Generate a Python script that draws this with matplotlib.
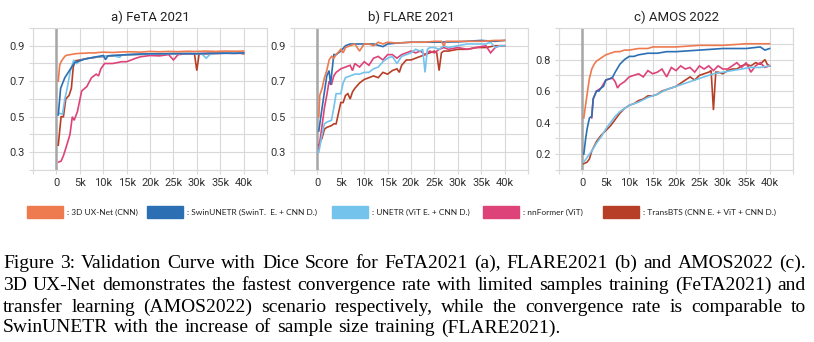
import numpy as np
import matplotlib.pyplot as plt
from matplotlib.patches import Rectangle

W, H = 814, 342

# ---- FeTA 2021 ----
feta_uxnet_x = [400, 700, 1000, 1500, 2000, 2500, 3000, 4000, 5000, 6000, 7000, 8000, 9000, 10000, 12000,
                14000, 16000, 18000, 20000, 22000, 24000, 26000, 28000, 30000, 32000, 34000, 36000, 38000, 40000]
feta_uxnet_y = [0.70, 0.79, 0.81, 0.83, 0.845, 0.848, 0.85, 0.855, 0.857, 0.858, 0.86, 0.859, 0.862, 0.864, 0.862,
                0.865, 0.866, 0.864, 0.868, 0.866, 0.868, 0.867, 0.869, 0.868, 0.87, 0.868, 0.87, 0.869, 0.87]

feta_swin_x = [400, 900, 1800, 2900, 3900, 5000, 6000, 7000, 8000, 9000, 10000, 10500, 11000, 12000, 14000,
               15000, 17000, 20000, 23000, 26000, 30000, 33000, 36000, 38000, 40000]
feta_swin_y = [0.51, 0.66, 0.72, 0.765, 0.805, 0.815, 0.825, 0.83, 0.835, 0.84, 0.845, 0.822, 0.843, 0.845, 0.848,
               0.85, 0.852, 0.855, 0.855, 0.856, 0.855, 0.857, 0.858, 0.857, 0.86]

feta_unetr_x = [500, 1300, 1800, 2300, 3000, 3700, 4300, 5000, 6000, 8000, 10000, 12000, 13500, 14000, 16000,
                20000, 24000, 28000, 31000, 32000, 33000, 36000, 40000]
feta_unetr_y = [0.52, 0.515, 0.60, 0.66, 0.76, 0.82, 0.80, 0.815, 0.825, 0.835, 0.84, 0.845, 0.835, 0.848, 0.85,
                0.853, 0.855, 0.856, 0.856, 0.83, 0.856, 0.858, 0.86]

feta_nnformer_x = [500, 1000, 1500, 2100, 2900, 3400, 3800, 4500, 5400, 6500, 7500, 8500, 9000, 9500, 10300,
                   12000, 13000, 13900, 15000, 16000, 17000, 18000, 20000, 22000, 24000, 25000, 26000, 28000,
                   32000, 36000, 40000]
feta_nnformer_y = [0.245, 0.25, 0.28, 0.33, 0.40, 0.50, 0.48, 0.53, 0.645, 0.67, 0.72, 0.74, 0.73, 0.77, 0.80,
                   0.80, 0.805, 0.81, 0.81, 0.82, 0.83, 0.838, 0.845, 0.843, 0.85, 0.82, 0.85, 0.855,
                   0.856, 0.858, 0.857]

feta_transbts_x = [400, 1000, 1500, 2000, 2700, 3200, 3600, 4000, 5000, 7000, 10000, 13000, 16000, 20000,
                   24000, 28000, 29500, 30000, 30500, 33000, 36000, 39000, 40000]
feta_transbts_y = [0.34, 0.50, 0.50, 0.60, 0.62, 0.66, 0.78, 0.815, 0.82, 0.83, 0.84, 0.845, 0.85, 0.853,
                   0.855, 0.856, 0.855, 0.76, 0.855, 0.857, 0.858, 0.86, 0.855]

# ---- FLARE 2021 ----
flare_uxnet_x = [300, 500, 1000, 1500, 2000, 2500, 3000, 3500, 4000, 5000, 5500, 6000, 7000, 8000, 9000, 10000,
                 11000, 12000, 13000, 14000, 15000, 17000, 20000, 23000, 25000, 26500, 27000, 27500, 30000,
                 33000, 35000, 38000, 40000]
flare_uxnet_y = [0.50, 0.62, 0.66, 0.72, 0.76, 0.82, 0.84, 0.83, 0.85, 0.88, 0.86, 0.89, 0.90, 0.91, 0.87, 0.91,
                 0.91, 0.90, 0.92, 0.91, 0.92, 0.915, 0.92, 0.92, 0.925, 0.925, 0.90, 0.925, 0.925,
                 0.925, 0.925, 0.93, 0.93]

flare_swin_x = [300, 1000, 1500, 2000, 2500, 2800, 3500, 4000, 5000, 6000, 7000, 10000, 12000, 14000, 15000,
                17000, 20000, 25000, 30000, 35000, 38000, 40000]
flare_swin_y = [0.42, 0.55, 0.64, 0.73, 0.76, 0.68, 0.85, 0.85, 0.87, 0.90, 0.91, 0.91, 0.91, 0.895, 0.91,
                0.915, 0.92, 0.92, 0.922, 0.93, 0.925, 0.93]

flare_unetr_x = [300, 1000, 1500, 2000, 3000, 3500, 4000, 5000, 5500, 6000, 7000, 8000, 9000, 10000, 11000,
                 12000, 13000, 14000, 15000, 16000, 17000, 18000, 19000, 20000, 21000, 22000, 22500, 23000,
                 23500, 24000, 25000, 26000, 27000, 28000, 30000, 32000, 34000, 36000, 37000, 38000, 39000, 40000]
flare_unetr_y = [0.30, 0.40, 0.46, 0.47, 0.48, 0.55, 0.63, 0.63, 0.69, 0.72, 0.73, 0.74, 0.74, 0.75, 0.75,
                 0.77, 0.78, 0.81, 0.83, 0.84, 0.80, 0.84, 0.85, 0.86, 0.88, 0.87, 0.88, 0.75,
                 0.88, 0.89, 0.89, 0.88, 0.90, 0.89, 0.90, 0.91, 0.91, 0.91, 0.92, 0.89, 0.90, 0.90]

flare_nnformer_x = [300, 1000, 1500, 2000, 2500, 3000, 3500, 4000, 5000, 6000, 7000, 7500, 8000, 9000, 10000,
                    11000, 12000, 13000, 14000, 15000, 16000, 17000, 18000, 19000, 20000, 21000, 22000, 23000,
                    24000, 25000, 26000, 27000, 28000, 30000, 32000, 34000, 36000, 37000, 38000, 39000, 40000]
flare_nnformer_y = [0.32, 0.45, 0.55, 0.62, 0.70, 0.68, 0.73, 0.75, 0.77, 0.78, 0.79, 0.76, 0.80, 0.78, 0.81,
                    0.79, 0.83, 0.84, 0.82, 0.85, 0.85, 0.83, 0.85, 0.86, 0.87, 0.86, 0.87, 0.85,
                    0.87, 0.86, 0.88, 0.89, 0.88, 0.89, 0.88, 0.89, 0.90, 0.86, 0.89, 0.90, 0.90]

flare_transbts_x = [300, 1000, 1500, 2000, 3000, 3500, 4000, 4500, 5000, 5500, 6000, 6500, 7000, 7500, 8000,
                    9000, 10000, 11000, 12000, 13000, 14000, 15000, 16000, 17000, 17500, 18000, 19000, 20000,
                    21000, 22000, 23000, 24000, 25000, 25500, 26000, 26500, 27000, 28000, 30000, 32000, 34000,
                    36000, 38000, 40000]
flare_transbts_y = [0.34, 0.38, 0.43, 0.44, 0.45, 0.46, 0.46, 0.52, 0.58, 0.58, 0.62, 0.63, 0.60, 0.64, 0.66,
                    0.69, 0.71, 0.72, 0.73, 0.72, 0.75, 0.74, 0.76, 0.77, 0.75, 0.79, 0.82, 0.82,
                    0.83, 0.84, 0.85, 0.86, 0.87, 0.86, 0.76, 0.86, 0.87, 0.87, 0.88, 0.88, 0.89,
                    0.89, 0.90, 0.90]

# ---- AMOS 2022 ----
amos_uxnet_x = [300, 1000, 1500, 2000, 2500, 3000, 4000, 5000, 6000, 7000, 8000, 9000, 10000, 12000, 14000,
                15000, 20000, 25000, 30000, 35000, 40000]
amos_uxnet_y = [0.43, 0.58, 0.68, 0.74, 0.77, 0.79, 0.81, 0.83, 0.84, 0.85, 0.85, 0.86, 0.86, 0.87, 0.87,
                0.88, 0.88, 0.89, 0.89, 0.90, 0.90]

amos_swin_x = [300, 700, 1000, 1500, 2000, 2300, 3000, 3500, 4000, 4500, 5000, 6000, 6500, 7000, 8000, 9000,
               10000, 11000, 12000, 14000, 16000, 18000, 20000, 25000, 30000, 35000, 38000, 39000, 40000]
amos_swin_y = [0.20, 0.30, 0.36, 0.43, 0.44, 0.55, 0.60, 0.60, 0.62, 0.63, 0.67, 0.68, 0.69, 0.72, 0.77, 0.80,
               0.82, 0.82, 0.83, 0.84, 0.84, 0.85, 0.85, 0.86, 0.87, 0.87, 0.88, 0.86, 0.87]

amos_unetr_x = [300, 1000, 2000, 3000, 4000, 5000, 6000, 7000, 8000, 9000, 10000, 12000, 14000, 16000, 18000,
                20000, 22000, 24000, 26000, 28000, 30000, 32000, 34000, 36000, 38000, 40000]
amos_unetr_y = [0.15, 0.18, 0.22, 0.27, 0.31, 0.36, 0.40, 0.44, 0.47, 0.49, 0.51, 0.53, 0.56, 0.58, 0.61,
                0.63, 0.65, 0.67, 0.69, 0.71, 0.72, 0.73, 0.74, 0.75, 0.75, 0.76]

amos_nnformer_x = [2000, 2300, 3000, 4000, 5000, 6000, 6500, 7000, 7500, 8000, 9000, 10000, 11000, 12000,
                   13000, 14000, 15000, 16000, 17000, 18000, 19000, 20000, 21000, 22000, 23000, 24000, 25000,
                   26000, 27000, 28000, 29000, 30000, 31000, 32000, 33000, 34000, 35000, 36000, 37000, 38000,
                   39000, 40000]
amos_nnformer_y = [0.43, 0.55, 0.60, 0.62, 0.67, 0.68, 0.68, 0.66, 0.62, 0.64, 0.66, 0.69, 0.70, 0.71,
                   0.69, 0.73, 0.71, 0.72, 0.74, 0.69, 0.75, 0.73, 0.76, 0.74, 0.75, 0.72, 0.76,
                   0.74, 0.76, 0.73, 0.76, 0.74, 0.74, 0.76, 0.78, 0.75, 0.78, 0.72, 0.76, 0.78,
                   0.75, 0.76]

amos_transbts_x = [300, 1000, 1500, 2000, 3000, 4000, 5000, 6000, 6500, 7000, 8000, 9000, 10000, 11000, 12000,
                   13000, 14000, 15000, 16000, 17000, 18000, 19000, 20000, 21000, 22000, 23000, 24000, 25000,
                   26000, 27000, 27500, 28000, 28500, 29000, 30000, 31000, 32000, 33000, 34000, 35000, 36000,
                   37000, 38000, 39000, 39500, 40000]
amos_transbts_y = [0.14, 0.15, 0.17, 0.22, 0.28, 0.32, 0.35, 0.38, 0.40, 0.42, 0.46, 0.49, 0.51, 0.52, 0.54,
                   0.55, 0.57, 0.57, 0.58, 0.60, 0.61, 0.62, 0.63, 0.65, 0.67, 0.69, 0.67, 0.70,
                   0.71, 0.72, 0.73, 0.48, 0.72, 0.72, 0.71, 0.73, 0.74, 0.74, 0.76, 0.77, 0.76,
                   0.78, 0.77, 0.80, 0.77, 0.76]

model_names = [": 3D UX-Net (CNN)", ": SwinUNETR (SwinT.  E. + CNN D.)", ": UNETR (ViT E. + CNN D.)",
               ": nnFormer (ViT)", ": TransBTS (CNN E. + ViT + CNN D.)"]
colors = ["#ee7a4f", "#2c6fb3", "#74c3ec", "#dd4379", "#b83f27"]

panels = [
    ("a) FeTA 2021", (0.2, 1.0), [0.3, 0.5, 0.7, 0.9], 33,
     [(feta_uxnet_x, feta_uxnet_y), (feta_swin_x, feta_swin_y), (feta_unetr_x, feta_unetr_y),
      (feta_nnformer_x, feta_nnformer_y), (feta_transbts_x, feta_transbts_y)]),
    ("b) FLARE 2021", (0.2, 1.0), [0.3, 0.5, 0.7, 0.9], 294,
     [(flare_uxnet_x, flare_uxnet_y), (flare_swin_x, flare_swin_y), (flare_unetr_x, flare_unetr_y),
      (flare_nnformer_x, flare_nnformer_y), (flare_transbts_x, flare_transbts_y)]),
    ("c) AMOS 2022", (0.1, 1.0), [0.2, 0.4, 0.6, 0.8], 559,
     [(amos_uxnet_x, amos_uxnet_y), (amos_swin_x, amos_swin_y), (amos_unetr_x, amos_unetr_y),
      (amos_nnformer_x, amos_nnformer_y), (amos_transbts_x, amos_transbts_y)]),
]

fig = plt.figure(figsize=(W / 100, H / 100), dpi=100)
fig.patch.set_facecolor("white")

grid_c = "#d9d9d9"
xt = np.arange(-5000, 45001, 5000)
xlabels = ["" if (t < 0 or t > 40000) else ("0" if t == 0 else f"{t // 1000}k") for t in xt]

# draw order: bottom to top
order = [4, 3, 2, 1, 0]

for title, ylim, ylab, left_px, series in panels:
    ax = fig.add_axes([left_px / W, 1 - 170 / H, 234 / W, 142 / H])
    ax.set_xlim(-5000, 45000)
    ax.set_ylim(*ylim)
    yt = np.round(np.arange(ylim[0], ylim[1] + 0.001, 0.1), 2)
    ax.set_yticks(yt)
    ax.set_yticklabels([f"{v:.1f}" if any(abs(v - l) < 1e-6 for l in ylab) else "" for v in yt])
    ax.set_xticks(xt)
    ax.set_xticklabels(xlabels)
    ax.grid(True, color=grid_c, lw=0.8)
    ax.set_axisbelow(True)
    for s in ax.spines.values():
        s.set_color(grid_c)
        s.set_linewidth(0.8)
    ax.tick_params(length=3, width=0.8, color=grid_c, labelsize=8, labelcolor="#333333", pad=3,
                   labelfontfamily="Roboto")
    ax.axvline(0, color="#a6a6a6", lw=1.8, zorder=1.5)
    for i in order:
        x, y = series[i]
        ax.plot(x, y, color=colors[i], lw=1.2, zorder=3, solid_joinstyle="miter")
    ax.set_title(title, fontsize=9.5, family="Roboto", color="#222222", pad=5)

# legend strip
leg_patch_x = [27, 147, 332, 483, 603]
for i, name in enumerate(model_names):
    fig.patches.append(Rectangle((leg_patch_x[i] / W, 1 - 218 / H), 36 / W, 12 / H,
                                 transform=fig.transFigure, color=colors[i]))
    fig.text((leg_patch_x[i] + 40) / W, 1 - 212 / H, name, fontsize=6, family="Lato",
             va="center", ha="left", color="#222222")

# caption, justified across the page width
caption = [
    "Figure 3: Validation Curve with Dice Score for FeTA2021 (a), FLARE2021 (b) and AMOS2022 (c).",
    "3D UX-Net demonstrates the fastest convergence rate with limited samples training (FeTA2021) and",
    "transfer learning (AMOS2022) scenario respectively, while the convergence rate is comparable to",
    "SwinUNETR with the increase of sample size training (FLARE2021).",
]
cap_y = [263, 285, 307, 328]
x0, x1 = 3, 806
renderer = fig.canvas.get_renderer()

def word_widths(words, size):
    out = []
    for w in words:
        t = fig.text(0, 0, w, fontsize=size, family="Liberation Serif")
        out.append(t.get_window_extent(renderer).width)
        t.remove()
    return out

size = 14
space = word_widths(["a b"], size)[0] - 2 * word_widths(["a"], size)[0]
widest = max(sum(word_widths(l.split(), size)) + space * (len(l.split()) - 1) for l in caption)
size = size * min(1.0, (x1 - x0) / widest)

for k, line in enumerate(caption):
    words = line.split()
    ww = word_widths(words, size)
    if k < len(caption) - 1:
        gap = (x1 - x0 - sum(ww)) / (len(words) - 1)
    else:
        gap = word_widths(["a b"], size)[0] - 2 * word_widths(["a"], size)[0]
    x = x0
    for w, wd in zip(words, ww):
        fig.text(x / W, 1 - cap_y[k] / H, w, fontsize=size, family="Liberation Serif",
                 va="center", ha="left", color="black")
        x += wd + gap

fig.savefig("out.png", dpi=100)
